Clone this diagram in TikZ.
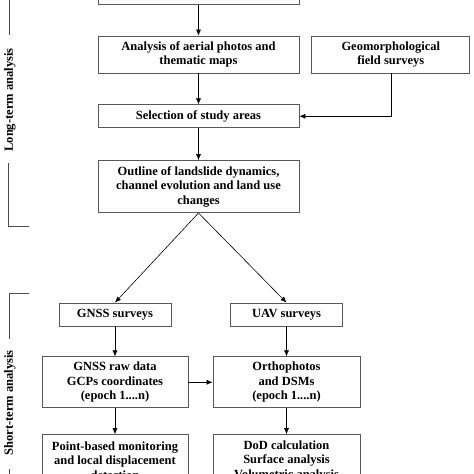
\documentclass[tikz,border=0pt]{standalone}
\usepackage{fontspec}
\setmainfont{Liberation Serif}
\usetikzlibrary{positioning,arrows.meta}

\begin{document}
\begin{tikzpicture}[
    x=1pt, y=1pt,
    node distance=31pt and 12pt,
    >={Latex[length=6pt,width=5pt]},
    % flowchart styles
    box/.style={rectangle, draw=black!65, line width=0.8pt, align=center, inner sep=1pt,
      font=\bfseries\fontsize{12.5}{14.5}\selectfont},
    side/.style={rotate=90, font=\bfseries\fontsize{12.5}{14}\selectfont},
    flow/.style={->, draw, line width=0.6pt},
    bracket/.style={draw=black!70, line width=0.7pt}
  ]
  \clip (0,0) rectangle (474,-474);

  % Long-term part
  \node[box, minimum width=201pt, minimum height=37pt] (aerial) at (198.5,-54.5)
    {Analysis of aerial photos and\\thematic maps};
  \node[box, minimum width=201pt, minimum height=40pt, above=31pt of aerial] (top) {};
  \node[box, minimum width=158pt, minimum height=37pt, right=12pt of aerial] (field)
    {Geomorphological\\field surveys};
  \node[box, minimum width=201pt, minimum height=23pt, below=31pt of aerial] (select)
    {Selection of study areas};
  \node[box, minimum width=201pt, minimum height=52pt, below=32pt of select] (outline)
    {Outline of landslide dynamics,\\channel evolution and land use\\changes};

  % Short-term part
  \node[box, minimum width=112pt, minimum height=23pt] (gnss) at (115,-314.5) {GNSS surveys};
  \node[box, minimum width=112pt, minimum height=23pt] (uav) at (286.5,-314.5) {UAV surveys};
  \node[box, minimum width=146pt, minimum height=51pt, below=30pt of gnss] (raw)
    {GNSS raw data\\GCPs coordinates\\(epoch 1....n)};
  \node[box, minimum width=147pt, minimum height=51pt, below=30pt of uav] (ortho)
    {Orthophotos\\and DSMs\\(epoch 1....n)};
  \node[box, minimum width=146pt, minimum height=52pt, below=26pt of raw] (point)
    {Point-based monitoring\\and local displacement\\detection};
  \node[box, minimum width=147pt, minimum height=52pt, below=26pt of ortho] (dod)
    {DoD calculation\\Surface analysis\\Volumetric analysis};

  % Side labels
  \node[side] (longlbl) at (10,-100) {Long-term analysis};
  \node[side] (shortlbl) at (10,-403) {Short-term analysis};
  \draw[bracket] (9,5) -- (9,-35);
  \draw[bracket] (8,-163) -- (8,-226) -- (29,-226);
  \draw[bracket] (29,-293) -- (9,-293) -- (9,-339);
  \draw[bracket] (9,-469) -- (9,-480);

  % Flow
  \draw[flow] (top) -- (aerial);
  \draw[flow] (aerial) -- (select);
  \draw[flow] (field.south) |- (select.east);
  \draw[flow] (select) -- (outline);
  \draw[flow] (outline.south) -- (gnss.north);
  \draw[flow] (outline.south) -- (uav.north);
  \draw[flow] (gnss) -- (raw);
  \draw[flow] (uav) -- (ortho);
  \draw[flow] (raw) -- (ortho);
  \draw[flow] (raw) -- (point);
  \draw[flow] (ortho) -- (dod);
\end{tikzpicture}
\end{document}
